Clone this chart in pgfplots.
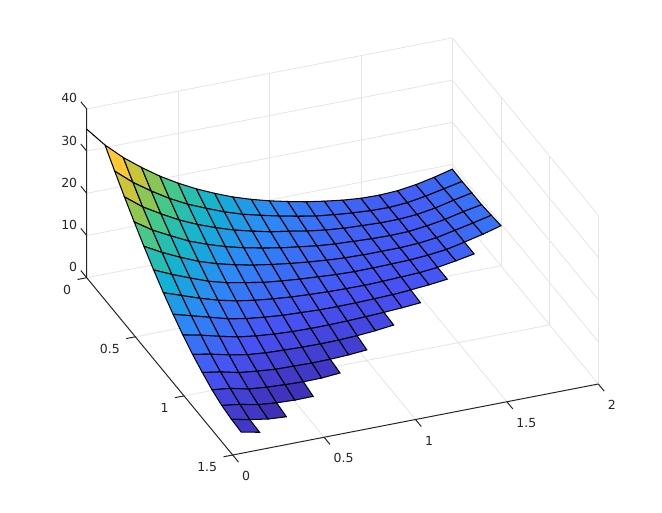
\documentclass[border=0pt]{standalone}
\usepackage{fontspec}
\setmainfont{DejaVu Sans}
\usepackage{pgfplots}
\pgfplotsset{compat=1.18}
\definecolor{gridc}{HTML}{E4E4E4}
\definecolor{axc}{HTML}{262626}
\pgfplotsset{
  colormap={parula}{
    rgb=(0.2422,0.1504,0.6603)
    rgb=(0.2810,0.3228,0.9579)
    rgb=(0.1786,0.5289,0.9682)
    rgb=(0.0689,0.6948,0.8394)
    rgb=(0.2161,0.7843,0.5923)
    rgb=(0.6720,0.7793,0.2227)
    rgb=(0.9970,0.7659,0.2199)
    rgb=(0.9769,0.9839,0.0805)
  }
}
\tikzset{gridl/.style={gridc, line width=0.8pt}, axl/.style={axc, line width=1pt}}
\begin{document}
\begin{tikzpicture}
\path[use as bounding box] (0pt,0pt) rectangle (662pt,512pt);
\begin{axis}[
  anchor=origin, at={(86.7pt,234.3pt)},
  x={(182.8pt,35.5pt)}, y={(97.33pt,-118.2pt)}, z={(0pt,4.22pt)},
  xmin=0, xmax=2, ymin=0, ymax=1.5, zmin=0, zmax=40,
  xtick={0,0.5,1,1.5,2}, ytick={0,0.5,1,1.5}, ztick={0,10,20,30,40},
  xticklabels={0,0.5,1,1.5,2}, yticklabels={0,0.5,1,1.5}, zticklabels={0,10,20,30,40},
  axis line style={draw=none},
  major tick length=0pt,
  tick label style={font=\fontsize{12.5}{14}\selectfont, text=axc},
  xticklabel style={anchor=west, xshift=6pt, yshift=-21pt},
  yticklabel style={anchor=east, xshift=-12pt, yshift=-12pt},
  zticklabel style={anchor=east, xshift=-6pt, yshift=10.5pt},
  clip=false,
  unbounded coords=jump,
  point meta min=0, point meta max=35.2,
]
% back planes
\pgfplotsinvokeforeach{0.5,1,1.5,2}{
  \draw[gridl] (axis cs:#1,0,0)--(axis cs:#1,1.5,0);
  \draw[gridl] (axis cs:#1,0,0)--(axis cs:#1,0,40);
}
\pgfplotsinvokeforeach{0,0.5,1}{
  \draw[gridl] (axis cs:0,#1,0)--(axis cs:2,#1,0);
}
\pgfplotsinvokeforeach{0.5,1,1.5}{
  \draw[gridl] (axis cs:2,#1,0)--(axis cs:2,#1,40);
}
\pgfplotsinvokeforeach{10,20,30,40}{
  \draw[gridl] (axis cs:0,0,#1)--(axis cs:2,0,#1)--(axis cs:2,1.5,#1);
}
% axis lines and ticks
\draw[axl] (axis cs:0,0,40)--(axis cs:0,0,0)--(axis cs:0,1.5,0)--(axis cs:2,1.5,0);
\pgfplotsinvokeforeach{0,0.5,1,1.5,2}{
  \draw[axl] (axis cs:#1,1.5,0)--(axis cs:#1,1.56,0);
}
\pgfplotsinvokeforeach{0,0.5,1,1.5}{
  \draw[axl] (axis cs:0,#1,0)--(axis cs:-0.05,#1,0);
}
\pgfplotsinvokeforeach{0,10,20,30,40}{
  \draw[axl] (axis cs:0,0,#1)--(axis cs:0,-0.06,#1);
}
\addplot3[surf, shader=flat corner, draw=black, line width=1.05pt, mesh/rows=15, mesh/cols=20, z buffer=sort] coordinates {
(0.1,0,30.6)(0.2,0,26.8)(0.3,0,23.6)(0.4,0,20.7)(0.5,0,18.2)(0.6,0,16.0)(0.7,0,14.1)(0.8,0,12.4)(0.9,0,11.0)(1.0,0,9.8)(1.1,0,8.8)(1.2,0,7.9)(1.3,0,7.2)(1.4,0,6.6)(1.5,0,6.2)(1.6,0,6.1)(1.7,0,6.3)(1.8,0,6.9)(1.9,0,7.8)(2.0,0,8.9)
(0.1,0.1,27.2)(0.2,0.1,23.7)(0.3,0.1,20.8)(0.4,0.1,18.2)(0.5,0.1,16.0)(0.6,0.1,14.2)(0.7,0.1,12.5)(0.8,0.1,11.1)(0.9,0.1,10.0)(1.0,0.1,9.0)(1.1,0.1,8.1)(1.2,0.1,7.3)(1.3,0.1,6.8)(1.4,0.1,6.4)(1.5,0.1,6.1)(1.6,0.1,6.0)(1.7,0.1,6.3)(1.8,0.1,7.0)(1.9,0.1,7.9)(2.0,0.1,8.8)
(0.1,0.2,23.9)(0.2,0.2,20.7)(0.3,0.2,18.2)(0.4,0.2,15.9)(0.5,0.2,14.0)(0.6,0.2,12.4)(0.7,0.2,11.0)(0.8,0.2,9.9)(0.9,0.2,8.9)(1.0,0.2,8.2)(1.1,0.2,7.4)(1.2,0.2,6.8)(1.3,0.2,6.4)(1.4,0.2,6.2)(1.5,0.2,6.0)(1.6,0.2,6.0)(1.7,0.2,6.3)(1.8,0.2,7.0)(1.9,0.2,8.0)(2.0,0.2,8.9)
(0.1,0.3,20.8)(0.2,0.3,18.0)(0.3,0.3,15.8)(0.4,0.3,13.7)(0.5,0.3,12.1)(0.6,0.3,10.7)(0.7,0.3,9.6)(0.8,0.3,8.7)(0.9,0.3,7.9)(1.0,0.3,7.3)(1.1,0.3,6.7)(1.2,0.3,6.3)(1.3,0.3,6.1)(1.4,0.3,5.9)(1.5,0.3,5.8)(1.6,0.3,5.9)(1.7,0.3,6.4)(1.8,0.3,7.1)(1.9,0.3,8.1)(2.0,0.3,8.9)
(0.1,0.4,17.8)(0.2,0.4,15.5)(0.3,0.4,13.5)(0.4,0.4,11.7)(0.5,0.4,10.3)(0.6,0.4,9.2)(0.7,0.4,8.3)(0.8,0.4,7.6)(0.9,0.4,7.0)(1.0,0.4,6.5)(1.1,0.4,6.1)(1.2,0.4,5.8)(1.3,0.4,5.7)(1.4,0.4,5.7)(1.5,0.4,5.7)(1.6,0.4,5.9)(1.7,0.4,6.4)(1.8,0.4,7.3)(1.9,0.4,8.2)(2.0,0.4,9.2)
(0.1,0.5,15.0)(0.2,0.5,13.1)(0.3,0.5,11.4)(0.4,0.5,9.8)(0.5,0.5,8.6)(0.6,0.5,7.8)(0.7,0.5,7.0)(0.8,0.5,6.5)(0.9,0.5,6.1)(1.0,0.5,5.8)(1.1,0.5,5.5)(1.2,0.5,5.35)(1.3,0.5,5.4)(1.4,0.5,5.5)(1.5,0.5,5.6)(1.6,0.5,5.9)(1.7,0.5,6.4)(1.8,0.5,7.3)(1.9,0.5,8.3)(2.0,0.5,9.5)
(0.1,0.6,12.4)(0.2,0.6,10.9)(0.3,0.6,9.4)(0.4,0.6,8.1)(0.5,0.6,7.1)(0.6,0.6,6.4)(0.7,0.6,5.9)(0.8,0.6,5.5)(0.9,0.6,5.25)(1.0,0.6,5.05)(1.1,0.6,4.95)(1.2,0.6,4.9)(1.3,0.6,5.0)(1.4,0.6,5.2)(1.5,0.6,5.4)(1.6,0.6,5.8)(1.7,0.6,6.5)(1.8,0.6,7.3)(1.9,0.6,nan)(2.0,0.6,nan)
(0.1,0.7,10.1)(0.2,0.7,8.9)(0.3,0.7,7.7)(0.4,0.7,6.5)(0.5,0.7,5.7)(0.6,0.7,5.2)(0.7,0.7,4.8)(0.8,0.7,4.6)(0.9,0.7,4.4)(1.0,0.7,4.35)(1.1,0.7,4.4)(1.2,0.7,4.5)(1.3,0.7,4.65)(1.4,0.7,4.95)(1.5,0.7,5.3)(1.6,0.7,5.8)(1.7,0.7,nan)(1.8,0.7,nan)(1.9,0.7,nan)(2.0,0.7,nan)
(0.1,0.8,8.0)(0.2,0.8,7.1)(0.3,0.8,6.0)(0.4,0.8,5.0)(0.5,0.8,4.4)(0.6,0.8,4.0)(0.7,0.8,3.75)(0.8,0.8,3.65)(0.9,0.8,3.65)(1.0,0.8,3.75)(1.1,0.8,3.9)(1.2,0.8,4.1)(1.3,0.8,4.35)(1.4,0.8,4.7)(1.5,0.8,nan)(1.6,0.8,nan)(1.7,0.8,nan)(1.8,0.8,nan)(1.9,0.8,nan)(2.0,0.8,nan)
(0.1,0.9,6.2)(0.2,0.9,5.4)(0.3,0.9,4.4)(0.4,0.9,3.6)(0.5,0.9,3.2)(0.6,0.9,3.0)(0.7,0.9,2.85)(0.8,0.9,2.8)(0.9,0.9,2.85)(1.0,0.9,3.05)(1.1,0.9,3.4)(1.2,0.9,3.9)(1.3,0.9,nan)(1.4,0.9,nan)(1.5,0.9,nan)(1.6,0.9,nan)(1.7,0.9,nan)(1.8,0.9,nan)(1.9,0.9,nan)(2.0,0.9,nan)
(0.1,1.0,4.7)(0.2,1.0,4.0)(0.3,1.0,3.0)(0.4,1.0,2.5)(0.5,1.0,2.1)(0.6,1.0,2.0)(0.7,1.0,1.9)(0.8,1.0,1.95)(0.9,1.0,2.15)(1.0,1.0,2.5)(1.1,1.0,nan)(1.2,1.0,nan)(1.3,1.0,nan)(1.4,1.0,nan)(1.5,1.0,nan)(1.6,1.0,nan)(1.7,1.0,nan)(1.8,1.0,nan)(1.9,1.0,nan)(2.0,1.0,nan)
(0.1,1.1,3.4)(0.2,1.1,2.9)(0.3,1.1,1.9)(0.4,1.1,1.5)(0.5,1.1,1.25)(0.6,1.1,1.1)(0.7,1.1,1.15)(0.8,1.1,1.5)(0.9,1.1,nan)(1.0,1.1,nan)(1.1,1.1,nan)(1.2,1.1,nan)(1.3,1.1,nan)(1.4,1.1,nan)(1.5,1.1,nan)(1.6,1.1,nan)(1.7,1.1,nan)(1.8,1.1,nan)(1.9,1.1,nan)(2.0,1.1,nan)
(0.1,1.2,2.5)(0.2,1.2,1.9)(0.3,1.2,1.0)(0.4,1.2,0.6)(0.5,1.2,0.4)(0.6,1.2,0.45)(0.7,1.2,nan)(0.8,1.2,nan)(0.9,1.2,nan)(1.0,1.2,nan)(1.1,1.2,nan)(1.2,1.2,nan)(1.3,1.2,nan)(1.4,1.2,nan)(1.5,1.2,nan)(1.6,1.2,nan)(1.7,1.2,nan)(1.8,1.2,nan)(1.9,1.2,nan)(2.0,1.2,nan)
(0.1,1.3,2.0)(0.2,1.3,1.1)(0.3,1.3,0.4)(0.4,1.3,0.1)(0.5,1.3,nan)(0.6,1.3,nan)(0.7,1.3,nan)(0.8,1.3,nan)(0.9,1.3,nan)(1.0,1.3,nan)(1.1,1.3,nan)(1.2,1.3,nan)(1.3,1.3,nan)(1.4,1.3,nan)(1.5,1.3,nan)(1.6,1.3,nan)(1.7,1.3,nan)(1.8,1.3,nan)(1.9,1.3,nan)(2.0,1.3,nan)
(0.1,1.4,1.8)(0.2,1.4,0.9)(0.3,1.4,nan)(0.4,1.4,nan)(0.5,1.4,nan)(0.6,1.4,nan)(0.7,1.4,nan)(0.8,1.4,nan)(0.9,1.4,nan)(1.0,1.4,nan)(1.1,1.4,nan)(1.2,1.4,nan)(1.3,1.4,nan)(1.4,1.4,nan)(1.5,1.4,nan)(1.6,1.4,nan)(1.7,1.4,nan)(1.8,1.4,nan)(1.9,1.4,nan)(2.0,1.4,nan)
};
\addplot3[black, line width=1.05pt] coordinates {(0,0,35.2)(0.1,0,30.6)};
\end{axis}
\end{tikzpicture}
\end{document}
